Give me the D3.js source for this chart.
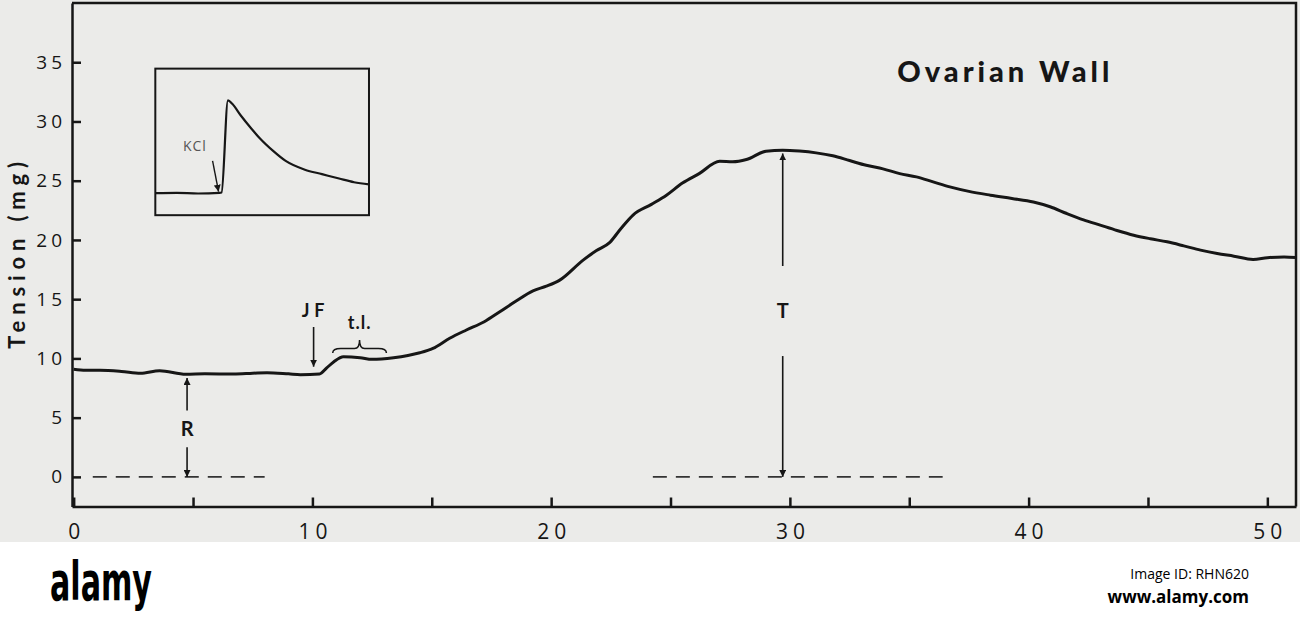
<!DOCTYPE html>
<html>
<head>
<meta charset="utf-8">
<script src="https://cdn.jsdelivr.net/npm/d3@7"></script>
<style>
  body { margin: 0; background: #fff; }
  svg { display: block; }
</style>
</head>
<body>
<div id="chart"></div>
<script>
// time after stimulus (min) and tension (mg)
const times = [0, 0.5, 1.1, 2.0, 2.8, 3.6, 4.7, 5.5, 6.7, 7.5, 8.1, 9.0, 9.5, 10.3, 10.6, 10.9, 11.3, 12.0, 12.5, 13.4,
  14.0, 14.5, 15.05, 15.75, 16.45, 17.2, 17.85, 18.5, 19.24, 19.8, 20.36, 21.34, 21.9, 22.46, 22.9, 23.43, 24.2, 24.83,
  25.5, 26.2, 27.06, 27.6, 28.18, 29.0, 29.7, 30.4, 31.1, 31.8, 32.5, 33.2, 33.9, 34.6, 35.3, 36.0, 36.7, 37.5, 38.4,
  39.3, 40.2, 40.9, 41.6, 42.3, 43.0, 43.7, 44.4, 45.1, 45.8, 46.5, 47.2, 47.9, 48.6, 49.4, 50.0, 50.7, 51.2]
const tension = [9.08, 9.0, 9.0, 8.9, 8.74, 8.96, 8.66, 8.7, 8.68, 8.75, 8.8, 8.7, 8.63, 8.68, 9.2, 9.72, 10.14, 10.06, 9.92, 10.06,
  10.25, 10.48, 10.85, 11.7, 12.4, 13.1, 13.94, 14.8, 15.71, 16.1, 16.61, 18.3, 19.1, 19.8, 20.9, 22.1, 23.0, 23.78,
  24.8, 25.6, 26.64, 26.6, 26.79, 27.49, 27.57, 27.5, 27.35, 27.1, 26.7, 26.3, 26.0, 25.6, 25.32, 24.9, 24.48, 24.1, 23.78,
  23.5, 23.2, 22.8, 22.23, 21.7, 21.25, 20.8, 20.4, 20.1, 19.84, 19.5, 19.14, 18.85, 18.63, 18.35, 18.5, 18.57, 18.52]

// KCl response in the inset (relative units)
const insetTimes = [0, 10, 20, 30, 31, 34, 36, 40, 45, 49, 55, 61, 70, 78, 86, 93, 100]
const insetValues = [0.15, 0.152, 0.148, 0.152, 0.155, 0.784, 0.76, 0.68, 0.59, 0.523, 0.44, 0.37, 0.31, 0.28, 0.25, 0.225, 0.21]

const xTicks = [0, 5, 10, 15, 20, 25, 30, 35, 40, 45, 50]
const yTicks = [0, 5, 10, 15, 20, 25, 30, 35]

// annotation positions, in data units
const restSpan = [0.8, 8.0]      // dashed zero line under R
const peakSpan = [24.26, 36.4]   // dashed zero line under T
const rAt = 4.75, rTop = 8.35
const tAt = 29.7, tTop = 27.3
const jfAt = 10.05
const tlSpan = [10.85, 13.1]

const width = 1300, height = 632

const svg = d3.select("#chart").append("svg")
    .attr("width", width)
    .attr("height", height)

svg.append("rect").attr("width", width).attr("height", 542).attr("fill", "#ebebe9")

const x = d3.scaleLinear().domain([-0.07, 51.2]).range([72, 1296])
const y = d3.scaleLinear().domain([-2.5, 40]).range([506.5, 3])

const ink = "#161616"
const numFont = "'Open Sans', Lato, sans-serif"
const boldFont = "Lato, 'Open Sans', sans-serif"

// frame (top + right)
svg.append("path")
    .attr("d", `M${x(-0.07)},${y(40)}H${x(51.2)}V${y(-2.5)}`)
    .attr("fill", "none").attr("stroke", ink).attr("stroke-width", 2.5)

const xAxis = g => g
    .attr("transform", `translate(0,${y(-2.5)})`)
    .call(d3.axisBottom(x).tickValues(xTicks).tickSizeInner(-9).tickSizeOuter(0).tickPadding(18)
        .tickFormat(d => d % 10 === 0 ? d : ""))
    .call(g => g.selectAll("path, line").attr("stroke", ink).attr("stroke-width", 2.5))
    .call(g => g.selectAll("text")
        .attr("fill", ink).attr("font-family", numFont).attr("font-size", 21)
        .attr("letter-spacing", 5).attr("dx", 2.5))

const yAxis = g => g
    .attr("transform", `translate(${x(-0.07)},0)`)
    .call(d3.axisLeft(y).tickValues(yTicks).tickSizeInner(-9).tickSizeOuter(0).tickPadding(6))
    .call(g => g.selectAll("path, line").attr("stroke", ink).attr("stroke-width", 2.5))
    .call(g => g.selectAll("text")
        .attr("fill", ink).attr("font-family", numFont).attr("font-size", 19)
        .attr("letter-spacing", 4))

svg.append("g").call(xAxis)
svg.append("g").call(yAxis)

svg.append("text")
    .attr("transform", `translate(25,${y(18.7)}) rotate(-90)`)
    .attr("text-anchor", "middle")
    .attr("font-family", boldFont).attr("font-weight", "bold").attr("font-size", 22)
    .attr("textLength", 187).attr("lengthAdjust", "spacing")
    .attr("fill", ink)
    .text("Tension (mg)")

// arrow marker
const defs = svg.append("defs")
defs.append("marker")
    .attr("id", "head")
    .attr("viewBox", "0 0 10 10")
    .attr("refX", 10).attr("refY", 5)
    .attr("markerWidth", 7).attr("markerHeight", 7)
    .attr("markerUnits", "userSpaceOnUse")
    .attr("orient", "auto")
  .append("path")
    .attr("d", "M0,0L10,5L0,10Z")
    .attr("fill", ink)

// main trace
const line = d3.line()
    .x((d, i) => x(times[i]))
    .y(d => y(d))
    .curve(d3.curveMonotoneX)

svg.append("path")
    .datum(tension)
    .attr("fill", "none")
    .attr("stroke", ink)
    .attr("stroke-width", 3)
    .attr("stroke-linejoin", "round")
    .attr("d", line)

// dashed zero lines
svg.append("g")
    .selectAll("line")
    .data([restSpan, peakSpan])
    .join("line")
    .attr("x1", d => x(d[0])).attr("x2", d => x(d[1]))
    .attr("y1", y(0)).attr("y2", y(0))
    .attr("stroke", "#333").attr("stroke-width", 1.6)
    .attr("stroke-dasharray", "14,9")

// double headed arrows with a letter in the gap
function measure(at, top, label, gapLo, gapHi) {
    const g = svg.append("g")
    g.append("line")
        .attr("x1", x(at)).attr("x2", x(at))
        .attr("y1", y(gapHi)).attr("y2", y(top))
        .attr("stroke", ink).attr("stroke-width", 1.6)
        .attr("marker-end", "url(#head)")
    g.append("line")
        .attr("x1", x(at)).attr("x2", x(at))
        .attr("y1", y(gapLo)).attr("y2", y(0))
        .attr("stroke", ink).attr("stroke-width", 1.6)
        .attr("marker-end", "url(#head)")
    g.append("text")
        .attr("x", x(at)).attr("y", y((gapLo + gapHi) / 2))
        .attr("dy", "0.36em")
        .attr("text-anchor", "middle")
        .attr("font-family", boldFont).attr("font-weight", "bold").attr("font-size", 20)
        .attr("fill", ink)
        .text(label)
}
measure(rAt, rTop, "R", 2.5, 5.6)
measure(tAt, tTop, "T", 10.2, 17.8)

// JF arrow
svg.append("line")
    .attr("x1", x(jfAt)).attr("x2", x(jfAt))
    .attr("y1", y(12.65)).attr("y2", y(9.3))
    .attr("stroke", ink).attr("stroke-width", 1.6)
    .attr("marker-end", "url(#head)")
svg.append("text")
    .attr("x", x(jfAt) + 2).attr("y", y(13.5))
    .attr("text-anchor", "middle")
    .attr("font-family", boldFont).attr("font-weight", "bold").attr("font-size", 18)
    .attr("letter-spacing", 5)
    .attr("fill", ink)
    .text("JF")

// t.l. brace
const bx0 = x(tlSpan[0]), bx1 = x(tlSpan[1]), bm = (bx0 + bx1) / 2
const bTop = y(11.55), bEnd = y(10.45), bMid = (bTop + bEnd) / 2 + 2
svg.append("path")
    .attr("d", `M${bx0},${bEnd} Q${bx0},${bMid} ${bx0 + 8},${bMid} L${bm - 5},${bMid} Q${bm},${bMid} ${bm},${bTop}
                Q${bm},${bMid} ${bm + 5},${bMid} L${bx1 - 8},${bMid} Q${bx1},${bMid} ${bx1},${bEnd}`)
    .attr("fill", "none").attr("stroke", ink).attr("stroke-width", 1.5)
svg.append("text")
    .attr("x", bm).attr("y", y(12.45))
    .attr("text-anchor", "middle")
    .attr("font-family", boldFont).attr("font-weight", "bold").attr("font-size", 18)
    .attr("letter-spacing", 1)
    .attr("fill", ink)
    .text("t.l.")

// title
svg.append("text")
    .attr("x", x(34.5)).attr("y", y(33.3))
    .attr("font-family", boldFont).attr("font-weight", "900").attr("font-size", 29)
    .attr("textLength", 212).attr("lengthAdjust", "spacing")
    .attr("fill", ink)
    .text("Ovarian Wall")

// inset with the KCl response
const insetBox = { left: x(3.42), right: x(12.37), top: y(34.46), bottom: y(22.09) }
const ix = d3.scaleLinear().domain([0, 100]).range([insetBox.left, insetBox.right])
const iy = d3.scaleLinear().domain([0, 1]).range([insetBox.bottom, insetBox.top])

svg.append("rect")
    .attr("x", insetBox.left).attr("y", insetBox.top)
    .attr("width", insetBox.right - insetBox.left).attr("height", insetBox.bottom - insetBox.top)
    .attr("fill", "none").attr("stroke", ink).attr("stroke-width", 2)

svg.append("path")
    .datum(insetValues)
    .attr("fill", "none")
    .attr("stroke", ink)
    .attr("stroke-width", 2.2)
    .attr("stroke-linejoin", "round")
    .attr("d", d3.line().x((d, i) => ix(insetTimes[i])).y(d => iy(d)).curve(d3.curveMonotoneX))

svg.append("line")
    .attr("x1", ix(26.8)).attr("y1", iy(0.37))
    .attr("x2", ix(29.6)).attr("y2", iy(0.16))
    .attr("stroke", ink).attr("stroke-width", 1.4)
    .attr("marker-end", "url(#head)")
svg.append("text")
    .attr("x", ix(18.5)).attr("y", iy(0.475))
    .attr("dy", "0.36em")
    .attr("text-anchor", "middle")
    .attr("font-family", numFont).attr("font-size", 14)
    .attr("letter-spacing", 1)
    .attr("fill", "#555")
    .text("KCl")

// stock photo banner
const banner = svg.append("g")
banner.append("rect").attr("y", 542).attr("width", width).attr("height", 90).attr("fill", "#fff")
banner.append("text")
    .attr("x", 50).attr("y", 600)
    .attr("font-family", "'DejaVu Sans Condensed', 'Liberation Sans Narrow', sans-serif")
    .attr("font-weight", "bold").attr("font-size", 54)
    .attr("textLength", 102).attr("lengthAdjust", "spacingAndGlyphs")
    .attr("fill", "#000")
    .text("alamy")
banner.append("text")
    .attr("x", 1249).attr("y", 579)
    .attr("text-anchor", "end")
    .attr("font-family", "'Open Sans', sans-serif").attr("font-size", 14)
    .attr("fill", "#000")
    .text("Image ID: RHN620")
banner.append("text")
    .attr("x", 1249).attr("y", 603)
    .attr("text-anchor", "end")
    .attr("font-family", "'Open Sans', sans-serif").attr("font-weight", "bold").attr("font-size", 17)
    .attr("fill", "#000")
    .text("www.alamy.com")
</script>
</body>
</html>
